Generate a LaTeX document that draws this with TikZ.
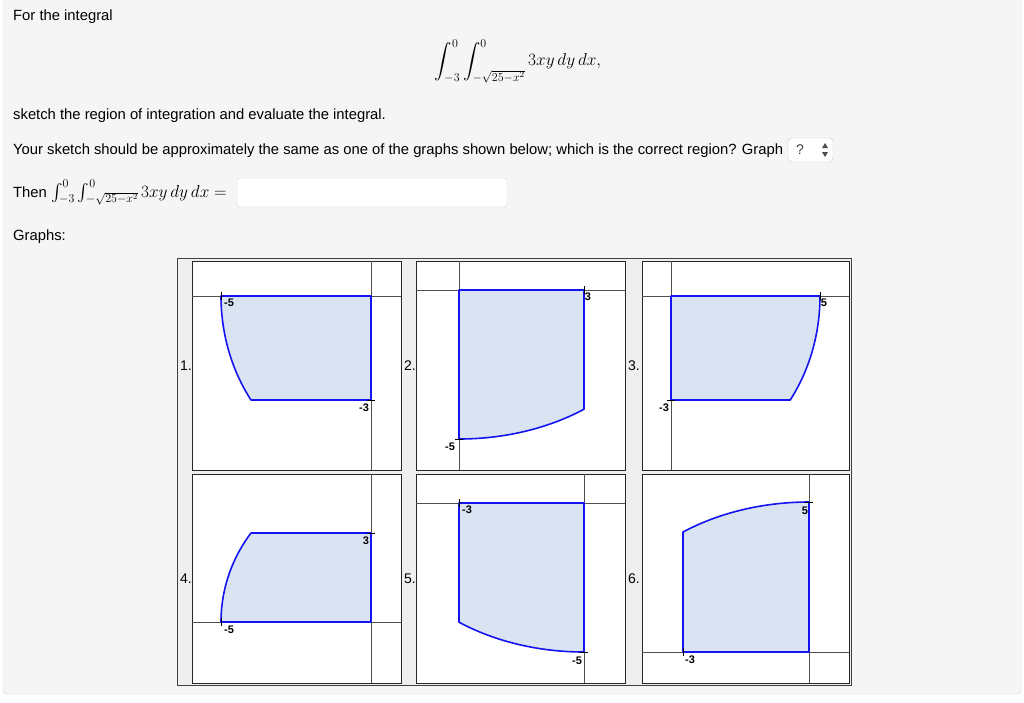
\documentclass[tikz,border=0pt]{standalone}
\usepackage{fontspec}
\setmainfont{Liberation Sans}
\usepackage{amsmath}
\definecolor{pagebg}{HTML}{F5F5F5}
\definecolor{cellbg}{HTML}{EFEFEF}
\definecolor{regfill}{HTML}{D9E3F1}
\definecolor{regline}{HTML}{1414F0}
\definecolor{axisgray}{HTML}{505050}
\tikzset{
  graphbox/.style={draw=black!85, fill=white, line width=1pt},
  axis/.style={draw=axisgray, line width=0.9pt},
  tickmark/.style={draw=black, line width=0.6pt},
  region/.style={draw=regline, fill=regfill, line width=1.6pt, line join=round},
  ticklab/.style={font=\fontsize{11}{13}\selectfont\bfseries, inner sep=0pt},
  celllab/.style={font=\fontsize{14}{16}\selectfont, inner sep=0pt, anchor=west},
  para/.style={font=\fontsize{14.8}{17}\selectfont, anchor=base west, inner sep=0pt},
}
\begin{document}
\begin{tikzpicture}[x=1pt, y=-1pt]
\useasboundingbox (0,0) rectangle (1024,702);
\fill[white] (0,0) rectangle (1024,702);
\draw[fill=pagebg, draw=gray!30, rounded corners=3pt] (3,-6) rectangle (1021,694);

% question text
\node[para] (intro) at (13,20) {For the integral};
\node[inner sep=0pt, font=\fontsize{17.8}{20}\selectfont] (dint) at (518,61)
  {$\displaystyle\int_{-3}^{0}\int_{-\sqrt{25-x^2}}^{0} 3xy\,dy\,dx,$};
\node[para] (sketch) at (13,119) {sketch the region of integration and evaluate the integral.};
\node[para] (which) at (13,154) {Your sketch should be approximately the same as one of the graphs shown below; which is the correct region? Graph};
\node[para] (then) at (13,197)
  {Then {\fontsize{16.8}{19}\selectfont$\int_{-3}^{0}\int_{-\sqrt{25-x^2}}^{0} 3xy\,dy\,dx =$}};
\node[para] (graphs) at (13,240) {Graphs:};

% answer widgets
\draw[rounded corners=4pt, draw=gray!40, fill=white] (788,138) rectangle (833,162);
\node[font=\fontsize{14}{16}\selectfont, text=black!75] (qmark) at (800,150) {?};
\fill[black!70] (822,148) -- (828,148) -- (825,143) -- cycle;
\fill[black!70] (822,152) -- (828,152) -- (825,157) -- cycle;
\draw[rounded corners=3pt, draw=gray!35, fill=white] (237,178) rectangle (507,207);

% table of graphs
\fill[cellbg] (178,259) rectangle (851,685);
\draw[black!75, line width=1pt] (177.5,258.5) rectangle (851.5,685.5);
\foreach \l/\r in {192/401, 416/625, 642/849}
  \foreach \t/\b in {261/470, 474/683}
    \draw[graphbox] (\l,\t) rectangle (\r,\b);

\node[celllab] (n1) at (180,366) {1.};
\node[celllab] (n2) at (404,366) {2.};
\node[celllab] (n3) at (628,366) {3.};
\node[celllab] (n4) at (180,579) {4.};
\node[celllab] (n5) at (404,579) {5.};
\node[celllab] (n6) at (628,579) {6.};

% graph 1
\draw[axis] (192,296) -- (401,296);
\draw[axis] (371,261) -- (371,470);
\draw[region] (371,296) -- (371,400) -- (251,400)
  -- plot[domain=3:0, samples=25] ({371-30*sqrt(25-\x*\x)},{296+34.67*\x}) -- cycle;
\draw[tickmark] (221,292) -- (221,300);
\draw[tickmark] (367,400) -- (375,400);
\node[ticklab] (g1a) at (229,303) {-5};
\node[ticklab] (g1b) at (364,408) {-3};

% graph 2
\draw[axis] (416,290) -- (625,290);
\draw[axis] (459,261) -- (459,470);
\draw[region] (459,290) -- (584,290) -- (584,409)
  -- plot[domain=3:0, samples=25] ({459+41.67*\x},{290+29.8*sqrt(25-\x*\x)}) -- cycle;
\draw[tickmark] (584,286) -- (584,294);
\draw[tickmark] (455,439) -- (463,439);
\node[ticklab] (g2a) at (588,297) {3};
\node[ticklab] (g2b) at (450,447) {-5};

% graph 3
\draw[axis] (642,296) -- (849,296);
\draw[axis] (671,261) -- (671,470);
\draw[region] (671,296)
  -- plot[domain=0:3, samples=25] ({671+29.8*sqrt(25-\x*\x)},{296+34.67*\x})
  -- (671,400) -- cycle;
\draw[tickmark] (820,292) -- (820,300);
\draw[tickmark] (667,400) -- (675,400);
\node[ticklab] (g3a) at (824,303) {5};
\node[ticklab] (g3b) at (664,408) {-3};

% graph 4
\draw[axis] (192,622) -- (401,622);
\draw[axis] (371,474) -- (371,683);
\draw[region] (371,622) -- (371,533) -- (251,533)
  -- plot[domain=3:0, samples=25] ({371-30*sqrt(25-\x*\x)},{622-29.67*\x}) -- cycle;
\draw[tickmark] (221,618) -- (221,626);
\draw[tickmark] (367,533) -- (375,533);
\node[ticklab] (g4a) at (366,541) {3};
\node[ticklab] (g4b) at (229,630) {-5};

% graph 5
\draw[axis] (416,503) -- (625,503);
\draw[axis] (584,474) -- (584,683);
\draw[region] (459,503) -- (584,503) -- (584,652)
  -- plot[domain=0:3, samples=25] ({584-41.67*\x},{503+29.8*sqrt(25-\x*\x)}) -- cycle;
\draw[tickmark] (459,499) -- (459,507);
\draw[tickmark] (580,652) -- (588,652);
\node[ticklab] (g5a) at (467,510) {-3};
\node[ticklab] (g5b) at (577,661) {-5};

% graph 6
\draw[axis] (642,652) -- (849,652);
\draw[axis] (809,474) -- (809,683);
\draw[region] (683,652) -- (809,652) -- (809,502)
  -- plot[domain=0:3, samples=25] ({809-42*\x},{652-30*sqrt(25-\x*\x)}) -- cycle;
\draw[tickmark] (805,502) -- (813,502);
\draw[tickmark] (683,648) -- (683,656);
\node[ticklab] (g6a) at (805,511) {5};
\node[ticklab] (g6b) at (690,660) {-3};
\end{tikzpicture}
\end{document}
